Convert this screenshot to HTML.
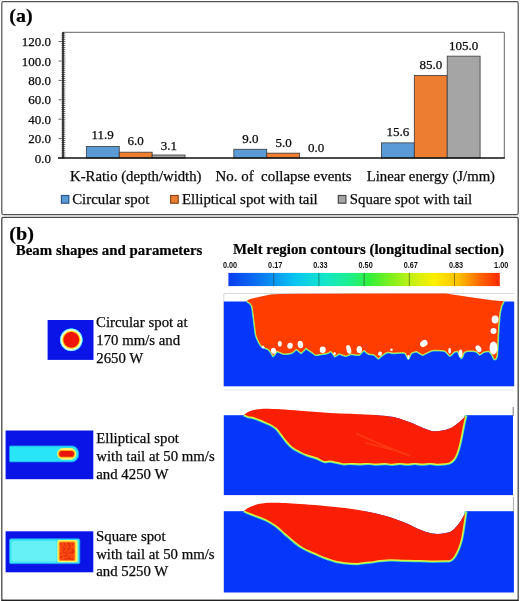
<!DOCTYPE html>
<html><head><meta charset="utf-8"><title>Figure</title>
<style>
html,body{margin:0;padding:0;background:#fff;}
svg{display:block;filter:blur(0.35px)}
text{font-family:"Liberation Serif","Times New Roman",serif;fill:#0a0a0a;stroke:#0a0a0a;stroke-width:.25px}
.b{font-weight:bold;fill:#000;stroke:#000;stroke-width:.2px}
.s{font-family:"Liberation Sans",Arial,sans-serif;font-size:8.7px;fill:#111;font-weight:bold;stroke:none}
</style></head><body>
<svg width="520" height="601" viewBox="0 0 520 601">
<defs>
<linearGradient id="cb" x1="0" x2="1" y1="0" y2="0">
<stop offset="0" stop-color="#0a3cf0"/>
<stop offset="0.12" stop-color="#0a78f0"/>
<stop offset="0.25" stop-color="#0ac8f0"/>
<stop offset="0.36" stop-color="#14e6c8"/>
<stop offset="0.45" stop-color="#1ef08c"/>
<stop offset="0.52" stop-color="#32f03c"/>
<stop offset="0.60" stop-color="#82f01e"/>
<stop offset="0.68" stop-color="#c8f014"/>
<stop offset="0.76" stop-color="#fff000"/>
<stop offset="0.85" stop-color="#ffbe00"/>
<stop offset="0.93" stop-color="#ff6400"/>
<stop offset="1" stop-color="#ff2800"/>
</linearGradient>
<radialGradient id="circ" cx="0.5" cy="0.5" r="0.5">
<stop offset="0" stop-color="#f01408"/>
<stop offset="0.62" stop-color="#f01408"/>
<stop offset="0.71" stop-color="#ffd000"/>
<stop offset="0.80" stop-color="#fbffd0"/>
<stop offset="0.89" stop-color="#b0fff0"/>
<stop offset="0.96" stop-color="#28b4ff"/>
<stop offset="1" stop-color="#0a14e6"/>
</radialGradient>
</defs>
<rect width="520" height="601" fill="#fff"/>

<rect x="1.8" y="1.7" width="516.4" height="212.9" rx="1.5" fill="none" stroke="#505050" stroke-width="1.2"/>
<rect x="1.8" y="217.3" width="516.4" height="383" rx="1.5" fill="none" stroke="#484848" stroke-width="1.3"/><path d="M1.2 600.4H518.8" stroke="#222" stroke-width="1.3"/>
<text class="b" x="9.3" y="21.7" font-size="18.8" textLength="23.3" lengthAdjust="spacingAndGlyphs">(a)</text>
<path d="M63 32.3 H504.3 V158" fill="none" stroke="#555" stroke-width="0.9"/>
<rect x="86.35" y="146.46" width="32.90" height="11.54" fill="#5b9bd5" stroke="#3a3a3a" stroke-width="0.8"/>
<rect x="119.25" y="152.18" width="32.90" height="5.82" fill="#ed7d31" stroke="#3a3a3a" stroke-width="0.8"/>
<rect x="152.15" y="154.99" width="32.90" height="3.01" fill="#a5a5a5" stroke="#3a3a3a" stroke-width="0.8"/>
<rect x="233.85" y="149.27" width="32.90" height="8.73" fill="#5b9bd5" stroke="#3a3a3a" stroke-width="0.8"/>
<rect x="266.75" y="153.15" width="32.90" height="4.85" fill="#ed7d31" stroke="#3a3a3a" stroke-width="0.8"/>
<rect x="381.40" y="142.87" width="32.90" height="15.13" fill="#5b9bd5" stroke="#3a3a3a" stroke-width="0.8"/>
<rect x="414.30" y="75.55" width="32.90" height="82.45" fill="#ed7d31" stroke="#3a3a3a" stroke-width="0.8"/>
<rect x="447.20" y="56.15" width="32.90" height="101.85" fill="#a5a5a5" stroke="#3a3a3a" stroke-width="0.8"/>
<path d="M63 32 V158.6" stroke="#111" stroke-width="1.5" fill="none"/>
<path d="M58 158 H504.8" stroke="#111" stroke-width="1.4" fill="none"/>
<path d="M58.5 158.00H65.5M61.5 156.06H65.3M61.5 154.12H65.3M61.5 152.18H65.3M61.5 150.24H65.3M61.5 148.30H65.3M61.5 146.36H65.3M61.5 144.42H65.3M61.5 142.48H65.3M61.5 140.54H65.3M58.5 138.60H65.5M61.5 136.66H65.3M61.5 134.72H65.3M61.5 132.78H65.3M61.5 130.84H65.3M61.5 128.90H65.3M61.5 126.96H65.3M61.5 125.02H65.3M61.5 123.08H65.3M61.5 121.14H65.3M58.5 119.20H65.5M61.5 117.26H65.3M61.5 115.32H65.3M61.5 113.38H65.3M61.5 111.44H65.3M61.5 109.50H65.3M61.5 107.56H65.3M61.5 105.62H65.3M61.5 103.68H65.3M61.5 101.74H65.3M58.5 99.80H65.5M61.5 97.86H65.3M61.5 95.92H65.3M61.5 93.98H65.3M61.5 92.04H65.3M61.5 90.10H65.3M61.5 88.16H65.3M61.5 86.22H65.3M61.5 84.28H65.3M61.5 82.34H65.3M58.5 80.40H65.5M61.5 78.46H65.3M61.5 76.52H65.3M61.5 74.58H65.3M61.5 72.64H65.3M61.5 70.70H65.3M61.5 68.76H65.3M61.5 66.82H65.3M61.5 64.88H65.3M61.5 62.94H65.3M58.5 61.00H65.5M61.5 59.06H65.3M61.5 57.12H65.3M61.5 55.18H65.3M61.5 53.24H65.3M61.5 51.30H65.3M61.5 49.36H65.3M61.5 47.42H65.3M61.5 45.48H65.3M61.5 43.54H65.3M58.5 41.60H65.5M61.5 39.66H65.3M61.5 37.72H65.3M61.5 35.78H65.3M61.5 33.84H65.3" stroke="#222" stroke-width="0.7" fill="none"/>
<text x="51.1" y="162.5" font-size="13" text-anchor="end">0.0</text>
<text x="51.1" y="143.1" font-size="13" text-anchor="end">20.0</text>
<text x="51.1" y="123.7" font-size="13" text-anchor="end">40.0</text>
<text x="51.1" y="104.3" font-size="13" text-anchor="end">60.0</text>
<text x="51.1" y="84.9" font-size="13" text-anchor="end">80.0</text>
<text x="51.1" y="65.5" font-size="13" text-anchor="end">100.0</text>
<text x="51.1" y="46.1" font-size="13" text-anchor="end">120.0</text>
<text x="102.7" y="138.8" font-size="13" text-anchor="middle">11.9</text>
<text x="135.6" y="145" font-size="13" text-anchor="middle">6.0</text>
<text x="168.8" y="149.6" font-size="13" text-anchor="middle">3.1</text>
<text x="250.4" y="143" font-size="13" text-anchor="middle">9.0</text>
<text x="283.5" y="146.5" font-size="13" text-anchor="middle">5.0</text>
<text x="316" y="151.5" font-size="13" text-anchor="middle">0.0</text>
<text x="397.8" y="136.4" font-size="13" text-anchor="middle">15.6</text>
<text x="430.8" y="69" font-size="13" text-anchor="middle">85.0</text>
<text x="463.7" y="49.6" font-size="13" text-anchor="middle">105.0</text>

<text x="70.0" y="180.7" font-size="14.75">K-Ratio (depth/width)</text>
<text x="215.6" y="180.7" font-size="14.9" xml:space="preserve">No. of  collapse events</text>
<text x="366.7" y="180.7" font-size="14.75">Linear energy (J/mm)</text>
<rect x="61.4" y="195.5" width="7.4" height="7.7" fill="#5b9bd5" stroke="#2a5688" stroke-width="1.2"/>
<text x="72.2" y="203.7" font-size="14.85">Circular spot</text>
<rect x="170.6" y="195.5" width="7.6" height="7.7" fill="#ed7d31" stroke="#8a4616" stroke-width="1.2"/>
<text x="182.0" y="203.7" font-size="14.85">Elliptical spot with tail</text>
<rect x="338.3" y="195.5" width="7.6" height="7.7" fill="#a5a5a5" stroke="#484848" stroke-width="1.2"/>
<text x="349.8" y="203.7" font-size="14.85">Square spot with tail</text>
<text class="b" x="9.3" y="239.5" font-size="19.4" textLength="24.6" lengthAdjust="spacingAndGlyphs">(b)</text>
<text class="b" x="15.8" y="255.0" font-size="14.9">Beam shapes and parameters</text>
<text class="b" x="232.9" y="253.6" font-size="14.9">Melt region contours (longitudinal section)</text>
<rect x="228.4" y="272.9" width="271.4" height="13.2" fill="url(#cb)"/>
<text class="s" x="230.0" y="268.2" text-anchor="middle" textLength="14.2" lengthAdjust="spacingAndGlyphs">0.00</text>
<text class="s" x="275.2" y="268.2" text-anchor="middle" textLength="14.2" lengthAdjust="spacingAndGlyphs">0.17</text>
<text class="s" x="320.4" y="268.2" text-anchor="middle" textLength="14.2" lengthAdjust="spacingAndGlyphs">0.33</text>
<text class="s" x="365.6" y="268.2" text-anchor="middle" textLength="14.2" lengthAdjust="spacingAndGlyphs">0.50</text>
<text class="s" x="410.8" y="268.2" text-anchor="middle" textLength="14.2" lengthAdjust="spacingAndGlyphs">0.67</text>
<text class="s" x="456.0" y="268.2" text-anchor="middle" textLength="14.2" lengthAdjust="spacingAndGlyphs">0.83</text>
<text class="s" x="501.2" y="268.2" text-anchor="middle" textLength="14.2" lengthAdjust="spacingAndGlyphs">1.00</text>
<path d="M273.7 272.9V286.1M318.9 272.9V286.1M364.1 272.9V286.1M409.3 272.9V286.1M454.5 272.9V286.1" stroke="#222" stroke-width="0.6" fill="none" opacity="0.8"/>
<g>
<path d="M223.8 386.5V293.5H514.5" fill="none" stroke="#c8c8c8" stroke-width="0.7"/>
<path d="M223.8 390H514" fill="none" stroke="#e0e0e0" stroke-width="0.8"/>
<rect x="223.8" y="301.5" width="290.4" height="84.8" fill="#0537fa"/>
<path d="M503.9 301.2L501.5 306.0L499.9 313.0L498.8 325.0L498.1 336.0L497.6 348.0L497.0 356.0L495.8 359.2L494.2 359.2L491.5 354.0L488.9 351.0L486.0 351.5L483.0 352.3L481.0 354.0L479.6 354.6L477.0 352.0L473.8 351.0L467.0 351.0L464.0 352.5L462.0 357.5L461.2 358.0L460.0 356.0L457.7 351.0L454.0 352.0L451.0 355.2L449.6 355.8L448.0 354.0L445.0 351.0L440.0 350.4L434.2 350.2L431.5 350.8L428.5 352.1L425.5 353.5L422.7 355.0L420.0 353.5L416.9 351.5L414.0 352.0L411.2 353.1L409.8 356.0L408.3 358.8L407.0 356.5L405.4 353.1L403.0 352.6L399.6 352.7L393.8 353.1L391.0 352.8L388.0 352.1L385.5 353.0L383.3 354.6L381.0 356.3L378.5 358.5L376.5 357.0L374.6 355.0L371.5 354.3L368.8 354.0L366.5 352.5L364.0 350.2L361.8 352.5L359.2 355.0L355.0 354.8L351.5 354.0L348.5 355.0L345.8 356.0L343.0 355.2L340.0 354.0L338.5 354.0L336.5 355.5L334.6 356.3L332.8 353.5L330.8 351.2L328.8 352.5L326.9 353.3L324.0 353.8L321.2 354.2L318.0 354.8L315.4 355.0L313.5 353.5L311.5 352.1L308.5 350.0L305.8 348.3L303.5 351.0L301.0 353.1L298.5 351.0L296.2 349.2L293.8 351.5L291.3 353.1L287.5 353.8L283.7 354.0L280.0 352.5L276.9 351.2L275.0 354.0L273.1 356.2L271.0 352.5L268.3 349.2L265.0 348.0L261.5 346.3L259.5 343.5L258.0 340.5L256.8 338.0L255.6 334.2L254.6 326.0L253.7 318.8L252.6 310.0L251.7 305.4L249.5 303.0L247.0 301.5" fill="none" stroke="#32dcc8" stroke-width="2.2" stroke-linejoin="round"/>
<path d="M247.0 301.5L247.8 300.0L251.0 298.8L260.0 296.7L270.4 294.4L280.0 293.9L300.0 293.8L400.0 293.5L446.0 293.6L469.0 297.0L492.0 300.3L503.9 301.2L501.5 306.0L499.9 313.0L498.8 325.0L498.1 336.0L497.6 348.0L497.0 356.0L495.8 359.2L494.2 359.2L491.5 354.0L488.9 351.0L486.0 351.5L483.0 352.3L481.0 354.0L479.6 354.6L477.0 352.0L473.8 351.0L467.0 351.0L464.0 352.5L462.0 357.5L461.2 358.0L460.0 356.0L457.7 351.0L454.0 352.0L451.0 355.2L449.6 355.8L448.0 354.0L445.0 351.0L440.0 350.4L434.2 350.2L431.5 350.8L428.5 352.1L425.5 353.5L422.7 355.0L420.0 353.5L416.9 351.5L414.0 352.0L411.2 353.1L409.8 356.0L408.3 358.8L407.0 356.5L405.4 353.1L403.0 352.6L399.6 352.7L393.8 353.1L391.0 352.8L388.0 352.1L385.5 353.0L383.3 354.6L381.0 356.3L378.5 358.5L376.5 357.0L374.6 355.0L371.5 354.3L368.8 354.0L366.5 352.5L364.0 350.2L361.8 352.5L359.2 355.0L355.0 354.8L351.5 354.0L348.5 355.0L345.8 356.0L343.0 355.2L340.0 354.0L338.5 354.0L336.5 355.5L334.6 356.3L332.8 353.5L330.8 351.2L328.8 352.5L326.9 353.3L324.0 353.8L321.2 354.2L318.0 354.8L315.4 355.0L313.5 353.5L311.5 352.1L308.5 350.0L305.8 348.3L303.5 351.0L301.0 353.1L298.5 351.0L296.2 349.2L293.8 351.5L291.3 353.1L287.5 353.8L283.7 354.0L280.0 352.5L276.9 351.2L275.0 354.0L273.1 356.2L271.0 352.5L268.3 349.2L265.0 348.0L261.5 346.3L259.5 343.5L258.0 340.5L256.8 338.0L255.6 334.2L254.6 326.0L253.7 318.8L252.6 310.0L251.7 305.4L249.5 303.0L247.0 301.5Z" fill="#ff3d00"/>
<path d="M503.9 301.2L501.5 306.0L499.9 313.0L498.8 325.0L498.1 336.0L497.6 348.0L497.0 356.0L495.8 359.2L494.2 359.2L491.5 354.0L488.9 351.0L486.0 351.5L483.0 352.3L481.0 354.0L479.6 354.6L477.0 352.0L473.8 351.0L467.0 351.0L464.0 352.5L462.0 357.5L461.2 358.0L460.0 356.0L457.7 351.0L454.0 352.0L451.0 355.2L449.6 355.8L448.0 354.0L445.0 351.0L440.0 350.4L434.2 350.2L431.5 350.8L428.5 352.1L425.5 353.5L422.7 355.0L420.0 353.5L416.9 351.5L414.0 352.0L411.2 353.1L409.8 356.0L408.3 358.8L407.0 356.5L405.4 353.1L403.0 352.6L399.6 352.7L393.8 353.1L391.0 352.8L388.0 352.1L385.5 353.0L383.3 354.6L381.0 356.3L378.5 358.5L376.5 357.0L374.6 355.0L371.5 354.3L368.8 354.0L366.5 352.5L364.0 350.2L361.8 352.5L359.2 355.0L355.0 354.8L351.5 354.0L348.5 355.0L345.8 356.0L343.0 355.2L340.0 354.0L338.5 354.0L336.5 355.5L334.6 356.3L332.8 353.5L330.8 351.2L328.8 352.5L326.9 353.3L324.0 353.8L321.2 354.2L318.0 354.8L315.4 355.0L313.5 353.5L311.5 352.1L308.5 350.0L305.8 348.3L303.5 351.0L301.0 353.1L298.5 351.0L296.2 349.2L293.8 351.5L291.3 353.1L287.5 353.8L283.7 354.0L280.0 352.5L276.9 351.2L275.0 354.0L273.1 356.2L271.0 352.5L268.3 349.2L265.0 348.0L261.5 346.3L259.5 343.5L258.0 340.5L256.8 338.0L255.6 334.2L254.6 326.0L253.7 318.8L252.6 310.0L251.7 305.4L249.5 303.0L247.0 301.5" fill="none" stroke="#d2f046" stroke-width="0.9" stroke-linejoin="round"/>
<ellipse cx="263" cy="347.2" rx="1.4" ry="1.4" fill="#fff" transform="rotate(0 263 347.2)"/>
<ellipse cx="273.6" cy="350.9" rx="2.6" ry="3.0" fill="#fff" transform="rotate(-20 273.6 350.9)"/>
<ellipse cx="279.8" cy="343.8" rx="2.0" ry="2.8" fill="#fff" transform="rotate(0 279.8 343.8)"/>
<ellipse cx="290" cy="345.8" rx="2.8" ry="3.0" fill="#fff" transform="rotate(10 290 345.8)"/>
<ellipse cx="300.4" cy="344.5" rx="2.7" ry="3.7" fill="#fff" transform="rotate(-10 300.4 344.5)"/>
<ellipse cx="322.7" cy="349.8" rx="3.0" ry="3.2" fill="#fff" transform="rotate(0 322.7 349.8)"/>
<ellipse cx="334.6" cy="353.6" rx="1.2" ry="1.7" fill="#fff" transform="rotate(0 334.6 353.6)"/>
<ellipse cx="348.8" cy="349.3" rx="2.3" ry="4.5" fill="#fff" transform="rotate(-15 348.8 349.3)"/>
<ellipse cx="359.3" cy="349.6" rx="2.7" ry="3.7" fill="#fff" transform="rotate(0 359.3 349.6)"/>
<ellipse cx="380" cy="353.6" rx="1.9" ry="2.2" fill="#fff" transform="rotate(20 380 353.6)"/>
<ellipse cx="391.5" cy="349.8" rx="1.3" ry="1.3" fill="#fff" transform="rotate(0 391.5 349.8)"/>
<ellipse cx="495.1" cy="319.5" rx="3.5" ry="4.0" fill="#fff" transform="rotate(0 495.1 319.5)"/>
<ellipse cx="493.5" cy="331" rx="3.0" ry="3.0" fill="#fff" transform="rotate(0 493.5 331)"/>
<ellipse cx="493.5" cy="347.9" rx="4.0" ry="6.5" fill="#fff" transform="rotate(0 493.5 347.9)"/>
<ellipse cx="478.5" cy="348.8" rx="2.6" ry="3.6" fill="#fff" transform="rotate(-35 478.5 348.8)"/>
<ellipse cx="423.8" cy="343.5" rx="4.0" ry="3.2" fill="#fff" transform="rotate(-35 423.8 343.5)"/>
<ellipse cx="460.6" cy="353.6" rx="1.9" ry="4.0" fill="#fff" transform="rotate(0 460.6 353.6)"/>
<ellipse cx="449.6" cy="350.8" rx="1.4" ry="3.0" fill="#fff" transform="rotate(0 449.6 350.8)"/>
<ellipse cx="408.4" cy="357" rx="1.1" ry="2.2" fill="#fff" transform="rotate(0 408.4 357)"/>
</g>
<g>
<rect x="223.8" y="415.2" width="289.2" height="79.9" fill="#0537fa"/>
<path d="M513.2 407V416" fill="none" stroke="#777" stroke-width="1"/>
<path d="M244.0 415.2C244.7 414.7 246.3 412.9 248.0 412.0C249.7 411.1 251.3 410.5 254.0 410.0C256.7 409.5 259.7 408.9 264.0 408.8C268.3 408.7 274.0 409.0 280.0 409.3C286.0 409.6 293.3 410.3 300.0 410.8C306.7 411.3 313.3 411.8 320.0 412.3C326.7 412.8 333.3 413.3 340.0 413.6C346.7 413.9 353.3 414.0 360.0 414.3C366.7 414.6 374.7 415.0 380.0 415.4C385.3 415.8 388.3 416.1 392.0 416.8C395.7 417.5 398.7 418.4 402.0 419.4C405.3 420.4 408.8 421.7 412.0 423.0C415.2 424.3 418.5 426.1 421.5 427.3C424.5 428.6 427.4 429.8 430.0 430.5C432.6 431.2 434.5 431.4 437.0 431.3C439.5 431.2 442.4 430.7 445.0 430.0C447.6 429.3 449.8 428.7 452.3 427.3C454.8 425.9 457.7 423.5 460.0 421.5C462.3 419.5 465.0 416.5 466.0 415.5L466 413.5L244 413.5Z" fill="#fff"/>
<path d="M466.0 415.5C465.8 416.6 465.1 419.2 464.5 422.0C463.9 424.8 463.2 428.3 462.5 432.0C461.8 435.7 460.9 440.3 460.0 444.0C459.1 447.7 458.0 451.4 457.0 454.0C456.0 456.6 455.2 458.0 454.0 459.5C452.8 461.0 451.5 462.1 450.0 462.8C448.5 463.6 445.8 463.8 445.0 464.0L445.0 464.0C443.7 464.1 439.5 464.5 437.0 464.4C434.5 464.3 432.5 463.6 430.0 463.6C427.5 463.6 424.5 464.3 422.0 464.3C419.5 464.3 417.5 463.6 415.0 463.6C412.5 463.6 409.5 464.3 407.0 464.3C404.5 464.3 402.5 463.6 400.0 463.6C397.5 463.6 394.5 464.4 392.0 464.4C389.5 464.4 387.8 463.8 385.0 463.8C382.2 463.8 377.8 464.2 375.0 464.2C372.2 464.2 370.5 463.6 368.0 463.6C365.5 463.6 363.0 464.0 360.0 464.0C357.0 464.0 352.7 463.6 350.0 463.6C347.3 463.6 346.0 464.1 344.0 464.0C342.0 463.9 340.3 463.2 338.0 462.8C335.7 462.4 332.3 461.5 330.0 461.3C327.7 461.1 326.2 462.2 324.0 461.6C321.8 461.1 319.2 459.0 316.5 458.0C313.8 457.0 310.8 456.5 308.0 455.5C305.2 454.5 302.7 453.4 300.0 452.0C297.3 450.6 294.3 449.1 292.0 447.3C289.7 445.5 287.8 443.1 286.0 441.0C284.2 438.9 282.6 436.5 281.0 434.5C279.4 432.5 278.3 430.5 276.5 428.8C274.7 427.1 272.4 425.8 270.0 424.5C267.6 423.2 264.7 422.1 262.0 421.0C259.3 419.9 256.3 418.7 254.0 418.0C251.7 417.3 249.7 417.3 248.0 416.8C246.3 416.3 244.7 415.5 244.0 415.2" fill="none" stroke="#32dcc8" stroke-width="3.0"/>
<path d="M244.0 415.2C244.7 414.7 246.3 412.9 248.0 412.0C249.7 411.1 251.3 410.5 254.0 410.0C256.7 409.5 259.7 408.9 264.0 408.8C268.3 408.7 274.0 409.0 280.0 409.3C286.0 409.6 293.3 410.3 300.0 410.8C306.7 411.3 313.3 411.8 320.0 412.3C326.7 412.8 333.3 413.3 340.0 413.6C346.7 413.9 353.3 414.0 360.0 414.3C366.7 414.6 374.7 415.0 380.0 415.4C385.3 415.8 388.3 416.1 392.0 416.8C395.7 417.5 398.7 418.4 402.0 419.4C405.3 420.4 408.8 421.7 412.0 423.0C415.2 424.3 418.5 426.1 421.5 427.3C424.5 428.6 427.4 429.8 430.0 430.5C432.6 431.2 434.5 431.4 437.0 431.3C439.5 431.2 442.4 430.7 445.0 430.0C447.6 429.3 449.8 428.7 452.3 427.3C454.8 425.9 457.7 423.5 460.0 421.5C462.3 419.5 465.0 416.5 466.0 415.5L466.0 415.5C465.8 416.6 465.1 419.2 464.5 422.0C463.9 424.8 463.2 428.3 462.5 432.0C461.8 435.7 460.9 440.3 460.0 444.0C459.1 447.7 458.0 451.4 457.0 454.0C456.0 456.6 455.2 458.0 454.0 459.5C452.8 461.0 451.5 462.1 450.0 462.8C448.5 463.6 445.8 463.8 445.0 464.0L445.0 464.0C443.7 464.1 439.5 464.5 437.0 464.4C434.5 464.3 432.5 463.6 430.0 463.6C427.5 463.6 424.5 464.3 422.0 464.3C419.5 464.3 417.5 463.6 415.0 463.6C412.5 463.6 409.5 464.3 407.0 464.3C404.5 464.3 402.5 463.6 400.0 463.6C397.5 463.6 394.5 464.4 392.0 464.4C389.5 464.4 387.8 463.8 385.0 463.8C382.2 463.8 377.8 464.2 375.0 464.2C372.2 464.2 370.5 463.6 368.0 463.6C365.5 463.6 363.0 464.0 360.0 464.0C357.0 464.0 352.7 463.6 350.0 463.6C347.3 463.6 346.0 464.1 344.0 464.0C342.0 463.9 340.3 463.2 338.0 462.8C335.7 462.4 332.3 461.5 330.0 461.3C327.7 461.1 326.2 462.2 324.0 461.6C321.8 461.1 319.2 459.0 316.5 458.0C313.8 457.0 310.8 456.5 308.0 455.5C305.2 454.5 302.7 453.4 300.0 452.0C297.3 450.6 294.3 449.1 292.0 447.3C289.7 445.5 287.8 443.1 286.0 441.0C284.2 438.9 282.6 436.5 281.0 434.5C279.4 432.5 278.3 430.5 276.5 428.8C274.7 427.1 272.4 425.8 270.0 424.5C267.6 423.2 264.7 422.1 262.0 421.0C259.3 419.9 256.3 418.7 254.0 418.0C251.7 417.3 249.7 417.3 248.0 416.8C246.3 416.3 244.7 415.5 244.0 415.2Z" fill="#fa1e05"/>
<path d="M466.0 415.5C465.8 416.6 465.1 419.2 464.5 422.0C463.9 424.8 463.2 428.3 462.5 432.0C461.8 435.7 460.9 440.3 460.0 444.0C459.1 447.7 458.0 451.4 457.0 454.0C456.0 456.6 455.2 458.0 454.0 459.5C452.8 461.0 451.5 462.1 450.0 462.8C448.5 463.6 445.8 463.8 445.0 464.0L445.0 464.0C443.7 464.1 439.5 464.5 437.0 464.4C434.5 464.3 432.5 463.6 430.0 463.6C427.5 463.6 424.5 464.3 422.0 464.3C419.5 464.3 417.5 463.6 415.0 463.6C412.5 463.6 409.5 464.3 407.0 464.3C404.5 464.3 402.5 463.6 400.0 463.6C397.5 463.6 394.5 464.4 392.0 464.4C389.5 464.4 387.8 463.8 385.0 463.8C382.2 463.8 377.8 464.2 375.0 464.2C372.2 464.2 370.5 463.6 368.0 463.6C365.5 463.6 363.0 464.0 360.0 464.0C357.0 464.0 352.7 463.6 350.0 463.6C347.3 463.6 346.0 464.1 344.0 464.0C342.0 463.9 340.3 463.2 338.0 462.8C335.7 462.4 332.3 461.5 330.0 461.3C327.7 461.1 326.2 462.2 324.0 461.6C321.8 461.1 319.2 459.0 316.5 458.0C313.8 457.0 310.8 456.5 308.0 455.5C305.2 454.5 302.7 453.4 300.0 452.0C297.3 450.6 294.3 449.1 292.0 447.3C289.7 445.5 287.8 443.1 286.0 441.0C284.2 438.9 282.6 436.5 281.0 434.5C279.4 432.5 278.3 430.5 276.5 428.8C274.7 427.1 272.4 425.8 270.0 424.5C267.6 423.2 264.7 422.1 262.0 421.0C259.3 419.9 256.3 418.7 254.0 418.0C251.7 417.3 249.7 417.3 248.0 416.8C246.3 416.3 244.7 415.5 244.0 415.2" fill="none" stroke="#dcf03c" stroke-width="1.4"/>
<path d="M357 433.8 Q385 447 409 455.4" stroke="#ff6a2a" stroke-width="2.2" fill="none" opacity="0.3" stroke-linecap="round"/>
<path d="M366 443 L391 449.5" stroke="#ff7a32" stroke-width="1.8" fill="none" opacity="0.28" stroke-linecap="round"/>
</g>
<g>
<rect x="223.8" y="511.2" width="290.1" height="81.3" fill="#0537fa"/>
<path d="M513.4 497V511.5" opacity="0.6" fill="none" stroke="#777" stroke-width="1"/>
<path d="M244.0 511.2C244.7 510.7 246.2 509.0 248.0 508.0C249.8 507.0 252.7 505.8 255.0 505.0C257.3 504.2 259.5 503.9 262.0 503.5C264.5 503.1 266.2 502.9 270.0 502.8C273.8 502.7 280.0 502.8 285.0 503.0C290.0 503.2 294.2 503.6 300.0 504.0C305.8 504.4 313.3 504.9 320.0 505.5C326.7 506.1 333.3 506.8 340.0 507.6C346.7 508.4 354.2 509.2 360.0 510.2C365.8 511.1 369.9 512.1 375.0 513.3C380.1 514.5 385.8 515.8 390.8 517.4C395.8 519.0 399.9 520.6 405.0 522.8C410.1 524.9 417.3 528.6 421.5 530.3C425.7 532.0 427.4 532.4 430.0 533.0C432.6 533.6 434.5 533.9 437.0 533.9C439.5 533.9 442.4 533.8 445.0 533.3C447.6 532.8 449.8 532.5 452.3 530.6C454.8 528.7 457.7 525.2 460.0 522.0C462.3 518.8 465.0 513.2 466.0 511.5L466 509.5L244 509.5Z" fill="#fff"/>
<path d="M466.0 511.5C465.8 513.2 465.0 518.6 464.5 522.0C464.0 525.4 463.5 529.0 463.0 532.0C462.5 535.0 462.2 537.2 461.5 540.0C460.8 542.8 459.6 546.3 458.5 549.0C457.4 551.7 456.1 554.2 455.0 556.0C453.9 557.8 453.0 558.7 452.0 559.5C451.0 560.3 449.5 560.8 449.0 561.0L449.0 561.0C446.7 561.0 439.8 561.2 435.0 561.2C430.2 561.2 425.0 560.9 420.0 560.8C415.0 560.7 409.9 560.6 405.0 560.5C400.1 560.4 395.0 560.0 390.8 560.0C386.6 560.0 383.5 560.4 380.0 560.8C376.5 561.2 373.3 561.9 370.0 562.3C366.7 562.7 362.2 563.0 360.0 563.2C357.8 563.5 359.0 563.8 356.5 563.8C354.0 563.8 348.4 563.4 345.0 563.0C341.6 562.6 338.7 562.1 336.0 561.5C333.3 560.9 331.5 560.2 328.8 559.2C326.1 558.2 323.1 557.1 320.0 555.8C316.9 554.5 312.8 552.8 310.0 551.5C307.2 550.2 305.0 549.1 303.0 548.0C301.0 546.9 300.0 546.3 298.0 544.8C296.0 543.3 293.3 541.0 291.0 539.0C288.7 537.0 286.4 535.1 284.0 533.0C281.6 530.9 279.2 528.4 276.5 526.4C273.8 524.4 270.8 522.5 268.0 521.0C265.2 519.5 262.7 518.6 260.0 517.5C257.3 516.4 254.7 515.5 252.0 514.5C249.3 513.5 245.3 511.8 244.0 511.2" fill="none" stroke="#32dcc8" stroke-width="3.0"/>
<path d="M244.0 511.2C244.7 510.7 246.2 509.0 248.0 508.0C249.8 507.0 252.7 505.8 255.0 505.0C257.3 504.2 259.5 503.9 262.0 503.5C264.5 503.1 266.2 502.9 270.0 502.8C273.8 502.7 280.0 502.8 285.0 503.0C290.0 503.2 294.2 503.6 300.0 504.0C305.8 504.4 313.3 504.9 320.0 505.5C326.7 506.1 333.3 506.8 340.0 507.6C346.7 508.4 354.2 509.2 360.0 510.2C365.8 511.1 369.9 512.1 375.0 513.3C380.1 514.5 385.8 515.8 390.8 517.4C395.8 519.0 399.9 520.6 405.0 522.8C410.1 524.9 417.3 528.6 421.5 530.3C425.7 532.0 427.4 532.4 430.0 533.0C432.6 533.6 434.5 533.9 437.0 533.9C439.5 533.9 442.4 533.8 445.0 533.3C447.6 532.8 449.8 532.5 452.3 530.6C454.8 528.7 457.7 525.2 460.0 522.0C462.3 518.8 465.0 513.2 466.0 511.5L466.0 511.5C465.8 513.2 465.0 518.6 464.5 522.0C464.0 525.4 463.5 529.0 463.0 532.0C462.5 535.0 462.2 537.2 461.5 540.0C460.8 542.8 459.6 546.3 458.5 549.0C457.4 551.7 456.1 554.2 455.0 556.0C453.9 557.8 453.0 558.7 452.0 559.5C451.0 560.3 449.5 560.8 449.0 561.0L449.0 561.0C446.7 561.0 439.8 561.2 435.0 561.2C430.2 561.2 425.0 560.9 420.0 560.8C415.0 560.7 409.9 560.6 405.0 560.5C400.1 560.4 395.0 560.0 390.8 560.0C386.6 560.0 383.5 560.4 380.0 560.8C376.5 561.2 373.3 561.9 370.0 562.3C366.7 562.7 362.2 563.0 360.0 563.2C357.8 563.5 359.0 563.8 356.5 563.8C354.0 563.8 348.4 563.4 345.0 563.0C341.6 562.6 338.7 562.1 336.0 561.5C333.3 560.9 331.5 560.2 328.8 559.2C326.1 558.2 323.1 557.1 320.0 555.8C316.9 554.5 312.8 552.8 310.0 551.5C307.2 550.2 305.0 549.1 303.0 548.0C301.0 546.9 300.0 546.3 298.0 544.8C296.0 543.3 293.3 541.0 291.0 539.0C288.7 537.0 286.4 535.1 284.0 533.0C281.6 530.9 279.2 528.4 276.5 526.4C273.8 524.4 270.8 522.5 268.0 521.0C265.2 519.5 262.7 518.6 260.0 517.5C257.3 516.4 254.7 515.5 252.0 514.5C249.3 513.5 245.3 511.8 244.0 511.2Z" fill="#fa1e05"/>
<path d="M466.0 511.5C465.8 513.2 465.0 518.6 464.5 522.0C464.0 525.4 463.5 529.0 463.0 532.0C462.5 535.0 462.2 537.2 461.5 540.0C460.8 542.8 459.6 546.3 458.5 549.0C457.4 551.7 456.1 554.2 455.0 556.0C453.9 557.8 453.0 558.7 452.0 559.5C451.0 560.3 449.5 560.8 449.0 561.0L449.0 561.0C446.7 561.0 439.8 561.2 435.0 561.2C430.2 561.2 425.0 560.9 420.0 560.8C415.0 560.7 409.9 560.6 405.0 560.5C400.1 560.4 395.0 560.0 390.8 560.0C386.6 560.0 383.5 560.4 380.0 560.8C376.5 561.2 373.3 561.9 370.0 562.3C366.7 562.7 362.2 563.0 360.0 563.2C357.8 563.5 359.0 563.8 356.5 563.8C354.0 563.8 348.4 563.4 345.0 563.0C341.6 562.6 338.7 562.1 336.0 561.5C333.3 560.9 331.5 560.2 328.8 559.2C326.1 558.2 323.1 557.1 320.0 555.8C316.9 554.5 312.8 552.8 310.0 551.5C307.2 550.2 305.0 549.1 303.0 548.0C301.0 546.9 300.0 546.3 298.0 544.8C296.0 543.3 293.3 541.0 291.0 539.0C288.7 537.0 286.4 535.1 284.0 533.0C281.6 530.9 279.2 528.4 276.5 526.4C273.8 524.4 270.8 522.5 268.0 521.0C265.2 519.5 262.7 518.6 260.0 517.5C257.3 516.4 254.7 515.5 252.0 514.5C249.3 513.5 245.3 511.8 244.0 511.2" fill="none" stroke="#dcf03c" stroke-width="1.4"/>
</g>
<rect x="47.6" y="320" width="45.9" height="39.9" fill="#0a14e6"/>
<circle cx="71.3" cy="339.8" r="11.8" fill="url(#circ)"/>
<rect x="5.6" y="430.5" width="87.7" height="48.7" fill="#0a14e6"/>
<path d="M10.5 445.9H72.2A6.5 8 0 0 1 72.2 461.9H10.5A1 1 0 0 1 9.5 460.9V446.9A1 1 0 0 1 10.5 445.9Z" fill="#28e6f5" stroke="#1e8cf0" stroke-width="0.8"/>
<rect x="57.1" y="448.0" width="19.3" height="11.7" rx="5.8" fill="#fff06e"/>
<rect x="58.2" y="450.0" width="16.8" height="7.8" rx="3.9" fill="#ffaa14"/>
<rect x="59.2" y="451.1" width="14.8" height="5.6" rx="2.8" fill="#eb140a"/>
<rect x="5.6" y="531.3" width="87.7" height="41" fill="#0a14e6"/>
<rect x="9.5" y="538.8" width="70.3" height="24.9" rx="1.5" fill="#3ce6f5" stroke="#1e96f0" stroke-width="0.8"/>
<rect x="11.5" y="541" width="45" height="20.5" rx="2" fill="#78f5f8" opacity="0.7"/>
<rect x="57.3" y="540" width="20.3" height="22.2" rx="2" fill="#fff564"/>
<rect x="58.6" y="541.3" width="17" height="19.8" rx="1.5" fill="#ffb01e"/>
<rect x="59.6" y="542.3" width="15" height="18" rx="1" fill="#f84a10"/>
<path d="M63.0 551.6h1.1v1.1h-1.1zM64.8 552.6h1.1v1.1h-1.1zM68.3 543.7h1.1v1.1h-1.1zM60.0 556.5h1.1v1.1h-1.1zM63.3 546.5h1.1v1.1h-1.1zM73.3 550.4h1.1v1.1h-1.1zM71.2 550.5h1.1v1.1h-1.1zM68.5 545.1h1.1v1.1h-1.1zM68.4 557.0h1.1v1.1h-1.1zM66.9 554.9h1.1v1.1h-1.1zM68.9 543.7h1.1v1.1h-1.1zM70.1 552.4h1.1v1.1h-1.1zM63.9 543.1h1.1v1.1h-1.1zM71.6 550.4h1.1v1.1h-1.1zM69.6 557.2h1.1v1.1h-1.1zM69.5 557.9h1.1v1.1h-1.1zM65.2 555.9h1.1v1.1h-1.1zM65.8 558.1h1.1v1.1h-1.1zM71.8 544.2h1.1v1.1h-1.1zM61.6 546.2h1.1v1.1h-1.1zM72.9 549.8h1.1v1.1h-1.1zM68.3 547.6h1.1v1.1h-1.1zM66.7 549.0h1.1v1.1h-1.1zM64.6 552.3h1.1v1.1h-1.1zM67.7 557.6h1.1v1.1h-1.1zM69.1 558.0h1.1v1.1h-1.1zM71.4 559.1h1.1v1.1h-1.1zM68.9 545.3h1.1v1.1h-1.1zM71.5 558.6h1.1v1.1h-1.1zM72.1 552.0h1.1v1.1h-1.1zM69.5 546.1h1.1v1.1h-1.1zM71.1 552.1h1.1v1.1h-1.1zM63.7 543.7h1.1v1.1h-1.1zM71.4 559.0h1.1v1.1h-1.1zM61.0 555.9h1.1v1.1h-1.1zM65.4 545.1h1.1v1.1h-1.1zM63.8 555.4h1.1v1.1h-1.1zM71.7 543.3h1.1v1.1h-1.1zM68.2 543.3h1.1v1.1h-1.1zM69.6 548.1h1.1v1.1h-1.1zM71.8 558.9h1.1v1.1h-1.1zM66.7 559.2h1.1v1.1h-1.1zM64.0 543.9h1.1v1.1h-1.1zM68.0 543.1h1.1v1.1h-1.1zM62.5 549.4h1.1v1.1h-1.1zM68.1 545.2h1.1v1.1h-1.1zM60.4 557.0h1.1v1.1h-1.1zM64.1 558.5h1.1v1.1h-1.1zM72.0 548.9h1.1v1.1h-1.1zM66.1 551.2h1.1v1.1h-1.1zM68.6 552.5h1.1v1.1h-1.1zM67.4 552.9h1.1v1.1h-1.1zM72.6 551.0h1.1v1.1h-1.1zM65.7 554.6h1.1v1.1h-1.1zM63.0 547.6h1.1v1.1h-1.1zM73.1 551.3h1.1v1.1h-1.1zM67.3 542.8h1.1v1.1h-1.1zM65.4 552.2h1.1v1.1h-1.1zM60.1 552.8h1.1v1.1h-1.1zM68.4 543.6h1.1v1.1h-1.1zM68.3 550.3h1.1v1.1h-1.1zM69.0 548.5h1.1v1.1h-1.1zM69.4 554.9h1.1v1.1h-1.1zM60.1 543.6h1.1v1.1h-1.1zM69.0 558.6h1.1v1.1h-1.1zM63.2 550.2h1.1v1.1h-1.1zM67.9 547.9h1.1v1.1h-1.1zM64.7 547.8h1.1v1.1h-1.1zM64.8 552.5h1.1v1.1h-1.1zM63.9 548.9h1.1v1.1h-1.1z" fill="#d8200c" opacity="0.75"/>
<text x="96.1" y="326.9" font-size="14.8" xml:space="preserve">Circular <tspan x="148.5">spot at</tspan></text>
<text x="96.3" y="345.1" font-size="14.8" xml:space="preserve">170 mm/s and</text>
<text x="96.3" y="363.2" font-size="14.8" xml:space="preserve">2650 W</text>
<text x="96.3" y="442.5" font-size="14.8" xml:space="preserve">Elliptical <tspan x="154.3">spot</tspan></text>
<text x="96.3" y="461.2" font-size="14.8" xml:space="preserve">with tail at 50 mm/s</text>
<text x="96.3" y="478.6" font-size="14.8" xml:space="preserve">and 4250 W</text>
<text x="96.1" y="541" font-size="14.8" xml:space="preserve">Square spot</text>
<text x="96.2" y="559" font-size="14.8" xml:space="preserve">with tail at 50 mm/s</text>
<text x="96.2" y="575.9" font-size="14.8" xml:space="preserve">and 5250 W</text>
</svg></body></html>
